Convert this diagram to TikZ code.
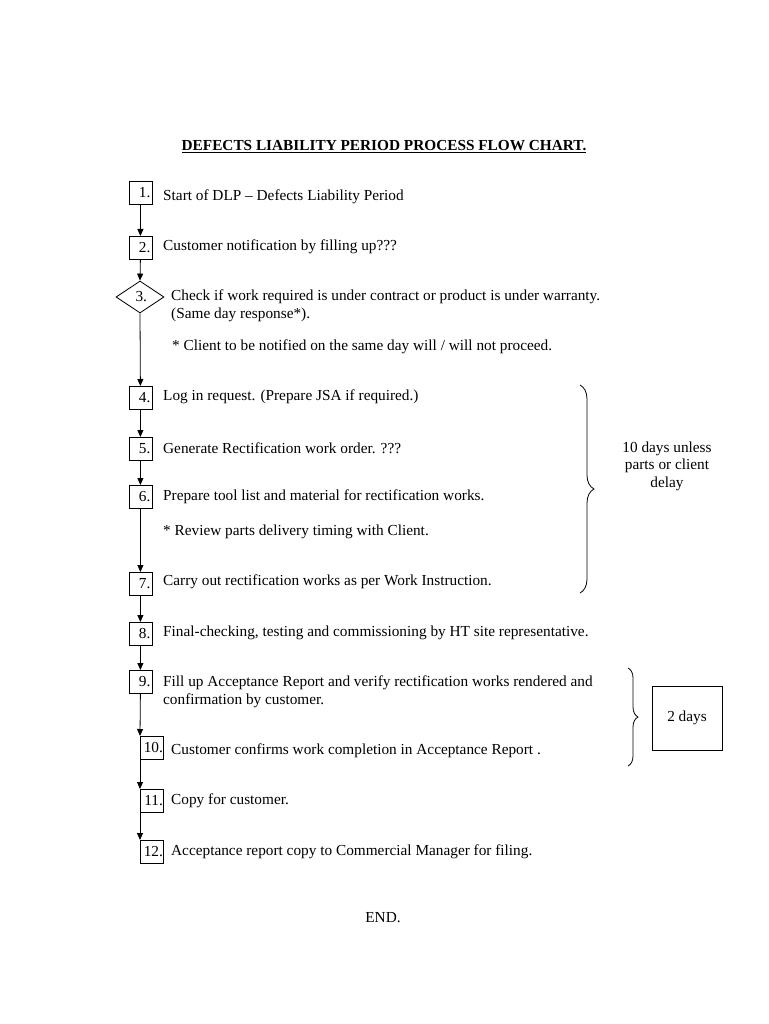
\documentclass[tikz,border=0pt]{standalone}
\usepackage{fontspec}
\setmainfont{Liberation Serif}
\usetikzlibrary{shapes.geometric,decorations.pathreplacing,arrows.meta}
\newcommand{\nm}[1]{\raisebox{-5pt}{#1}}
\begin{document}
\begin{tikzpicture}[x=1pt,y=-1pt,
  every node/.style={font=\fontsize{15.3}{17.5}\selectfont},
  nb/.style={draw,thick,minimum width=23pt,minimum height=23pt,inner sep=0pt,align=right,text width=20pt,anchor=north west},
  tx/.style={anchor=west,inner sep=0pt,align=left},
  arr/.style={thick,-{Triangle[length=7pt,width=6pt]}}]
\useasboundingbox (0,0) rectangle (768,1024);
\node[font=\fontsize{15.3}{17.5}\selectfont\bfseries] (title) at (384,147) {\underline{DEFECTS LIABILITY PERIOD PROCESS FLOW CHART.}};
\node[nb] (b1) at (128.5,181) {\nm{1.}};
\node[nb] (b2) at (128.5,236) {\nm{2.}};
\node[draw,thick,diamond,minimum width=48pt,minimum height=32pt,inner sep=0pt,aspect=1.5] (b3) at (140,297) {\,3.};
\node[nb] (b4) at (128.5,386) {\nm{4.}};
\node[nb] (b5) at (128.5,437) {\nm{5.}};
\node[nb] (b6) at (128.5,485) {\nm{6.}};
\node[nb] (b7) at (128.5,572) {\nm{7.}};
\node[nb] (b8) at (128.5,622) {\nm{8.}};
\node[nb] (b9) at (128.5,670) {\nm{9.}};
\node[nb,text width=22pt] (b10) at (140,736) {\nm{10.}};
\node[nb,text width=22pt] (b11) at (140,789) {\nm{11.}};
\node[nb,text width=22pt] (b12) at (140,840) {\nm{12.}};
\node[tx] (t1) at (163,197) {Start of DLP -- Defects Liability Period};
\node[tx] (t2) at (163,247) {Customer notification by filling up???};
\node[tx] (t3) at (171,306) {Check if work required is under contract or product is under warranty.\\ (Same day response*).};
\node[tx] (t3b) at (172,347) {* Client to be notified on the same day will / will not proceed.};
\node[tx] (t4) at (163,397) {Log in request. (Prepare JSA if required.)};
\node[tx] (t5) at (163,448) {Generate Rectification work order. ???};
\node[tx] (t6) at (163,497) {Prepare tool list and material for rectification works.};
\node[tx] (t6b) at (163,532) {* Review parts delivery timing with Client.};
\node[tx] (t7) at (163,582) {Carry out rectification works as per Work Instruction.};
\node[tx] (t8) at (163,633) {Final-checking, testing and commissioning by HT site representative.};
\node[tx] (t9) at (163,692) {Fill up Acceptance Report and verify rectification works rendered and\\confirmation by customer.};
\node[tx] (t10) at (171,751) {Customer confirms work completion in Acceptance Report .};
\node[tx] (t11) at (171,801) {Copy for customer.};
\node[tx] (t12) at (171,852) {Acceptance report copy to Commercial Manager for filing.};
\node (end) at (383,918) {END.};
\node[align=center] (d10) at (667,466) {10 days unless\\parts or client\\delay};
\node[draw,thick,minimum width=70pt,minimum height=64pt] (d2) at (687,718) {2 days};
\coordinate (c10) at (140,736);
\coordinate (c11) at (140,789);
\coordinate (c12) at (140,840);
\draw[arr] (b1.south) -- (b2.north);
\draw[arr] (b2.south) -- (b3.north);
\draw[arr] (b3.south) -- (b4.north);
\draw[arr] (b4.south) -- (b5.north);
\draw[arr] (b5.south) -- (b6.north);
\draw[arr] (b6.south) -- (b7.north);
\draw[arr] (b7.south) -- (b8.north);
\draw[arr] (b8.south) -- (b9.north);
\draw[arr] (b9.south) -- (c10);
\draw[arr] (c10) -- (c11);
\draw[arr] (c11) -- (c12);
\draw[thick,decorate,decoration={brace,amplitude=14pt}] (580,385) -- (580,593);
\draw[thick,decorate,decoration={brace,amplitude=10pt}] (628,668) -- (628,766);
\end{tikzpicture}
\end{document}
